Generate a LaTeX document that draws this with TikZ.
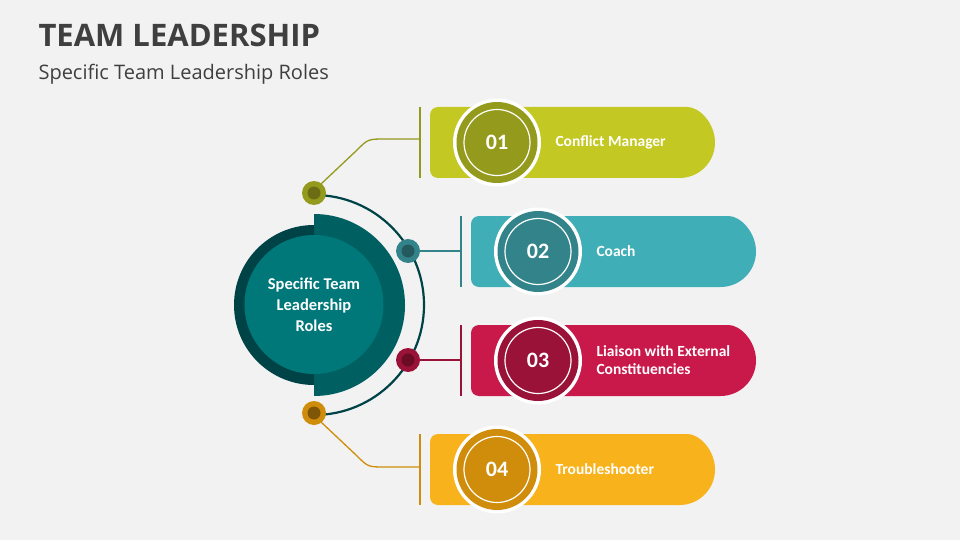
\documentclass[tikz,border=0pt]{standalone}
\usepackage{fontspec}
\setmainfont{Carlito}
\newfontfamily\titlefont{Open Sans}
\definecolor{bg}{HTML}{F2F2F2}
\definecolor{ttl}{HTML}{3F3F3F}
\definecolor{cA}{HTML}{C3C823}\definecolor{dA}{HTML}{949A1B}\definecolor{eA}{HTML}{6B6D14}
\definecolor{cB}{HTML}{40AEB6}\definecolor{dB}{HTML}{33848A}\definecolor{eB}{HTML}{24595D}
\definecolor{cC}{HTML}{C9184A}\definecolor{dC}{HTML}{9A1238}\definecolor{eC}{HTML}{6B0C27}
\definecolor{cD}{HTML}{F8B21B}\definecolor{dD}{HTML}{D08D0B}\definecolor{eD}{HTML}{7F5606}
\definecolor{tl1}{HTML}{004347}\definecolor{tl2}{HTML}{005F60}\definecolor{tl3}{HTML}{00787A}
\begin{document}
\begin{tikzpicture}[x=1pt,y=-1pt,
  lbl/.style={text=white,font=\bfseries\fontsize{15.5}{18}\selectfont,anchor=west,align=left},
  num/.style={text=white,font=\bfseries\fontsize{22}{24}\selectfont},
  conn/.style={line width=1.3pt}]
\fill[bg] (0,0) rectangle (960,540);
\useasboundingbox (0,0) rectangle (960,540);
\node[anchor=west,text=ttl,font=\titlefont\bfseries\fontsize{31}{34}\selectfont] (title) at (35,35) {TEAM LEADERSHIP};
\node[anchor=west,text=ttl,font=\titlefont\fontsize{20}{24}\selectfont] (sub) at (35,74) {Specific Team Leadership Roles};
% arc
\draw[tl1,line width=2.2pt] (314,195) arc (-90:90:110);
% center
\fill[tl2] (314,214) arc (-90:90:91) -- cycle;
\fill[tl1] (314,225) arc (-90:-270:80) -- cycle;
\fill[tl3] (314,304.5) circle (69.5);
\node[text=white,font=\bfseries\fontsize{16.5}{21}\selectfont,align=center] (ctr) at (314,305) {Specific Team\\Leadership\\Roles};
% bars
\foreach \x/\y/\c/\d/\n/\t [count=\i] in
  {430/107/cA/dA/01/{Conflict Manager},471/216/cB/dB/02/{Coach},471/325/cC/dC/03/{Liaison with External\\Constituencies},430/434/cD/dD/04/{Troubleshooter}}{
  \fill[\c,rounded corners=8pt] (\x,\y+35) -- (\x,\y) -- (\x+249.5,\y) {[sharp corners] arc (-90:90:35.5)} -- (\x,\y+71) -- cycle;
  \fill[white] (\x+67,\y+35.5) circle (44);
  \fill[\d] (\x+67,\y+35.5) circle (40.5);
  \draw[white,line width=1.2pt] (\x+67,\y+35.5) circle (33);
  \node[num] (n\i) at (\x+67,\y+35.5) {\n};
  \node[lbl] (l\i) at (\x+122,\y+35.5) {\t};
  \draw[\d,line width=1.5pt] (\x-10,\y) -- (\x-10,\y+71);
}
% dots
\foreach \px/\py/\d/\e [count=\i] in {314/193/dA/eA,408/251/dB/eB,408/360/dC/eC,314/413/dD/eD}{
  \fill[\d] (\px,\py) circle (12);
  \fill[\e] (\px,\py) circle (6.5);
  \coordinate (p\i) at (\px,\py);
}
\draw[dA,conn] (p1) ++(7,-9) -- (356,151) .. controls (368,139) .. (385,139) -- (420,139);
\draw[dB,conn] (p2) ++(12,0) -- (461,251);
\draw[dC,conn] (p3) ++(12,0) -- (461,360);
\draw[dD,conn] (p4) ++(7,9) -- (356,455) .. controls (368,467) .. (385,467) -- (420,467);
\end{tikzpicture}
\end{document}
